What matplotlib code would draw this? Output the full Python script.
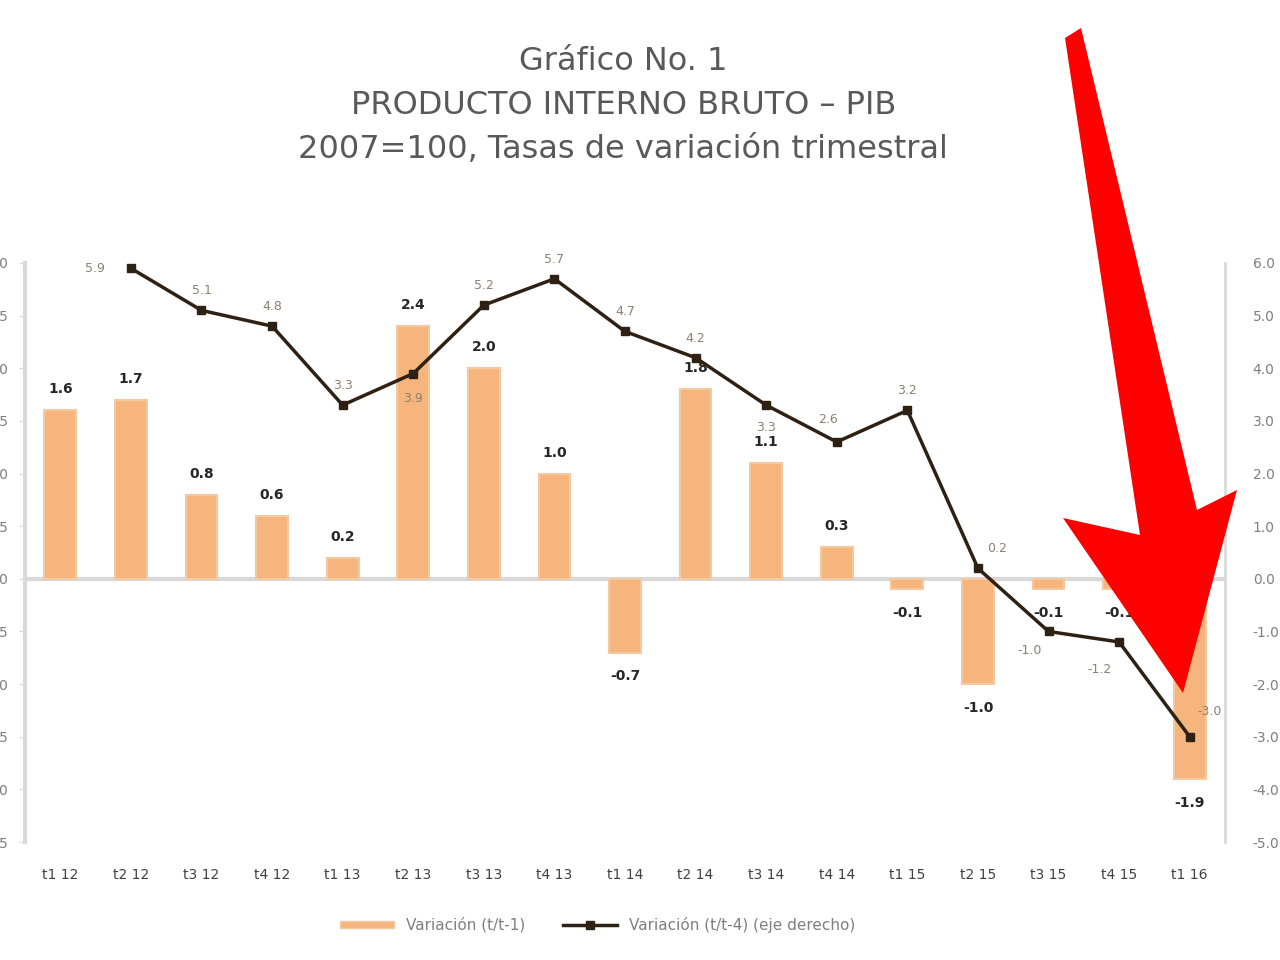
import matplotlib
matplotlib.use("Agg")
import matplotlib.pyplot as plt
from matplotlib.patches import Polygon, Patch
from matplotlib.lines import Line2D
import numpy as np

# trimestres
quarters = ['t1 12', 't2 12', 't3 12', 't4 12',
            't1 13', 't2 13', 't3 13', 't4 13',
            't1 14', 't2 14', 't3 14', 't4 14',
            't1 15', 't2 15', 't3 15', 't4 15',
            't1 16']
# variacion t/t-1 (barras, eje izquierdo)
qoq = [1.6, 1.7, 0.8, 0.6, 0.2, 2.4, 2.0, 1.0, -0.7, 1.8, 1.1, 0.3,
       -0.1, -1.0, -0.1, -0.1, -1.9]
# variacion t/t-4 (linea, eje derecho); el primer trimestre no tiene dato
yoy = [np.nan, 5.9, 5.1, 4.8, 3.3, 3.9, 5.2, 5.7, 4.7, 4.2, 3.3, 2.6,
       3.2, 0.2, -1.0, -1.2, -3.0]

left_ticks = [-2.5, -2.0, -1.5, -1.0, -0.5, 0.0, 0.5, 1.0, 1.5, 2.0, 2.5, 3.0]
right_ticks = [-5.0, -4.0, -3.0, -2.0, -1.0, 0.0, 1.0, 2.0, 3.0, 4.0, 5.0, 6.0]

# desplazamiento (pt) de las etiquetas de la linea
line_lbl_off = {1: (-26, 0), 5: (0, -18), 10: (0, -16), 11: (-6, 16),
                13: (14, 14), 14: (-14, -14), 15: (-14, -20), 16: (14, 18)}

x = np.arange(len(quarters))
grey = '#7f7f7f'
bar_col = '#F6B57C'
line_col = '#2e2113'

fig = plt.figure(figsize=(12.8, 9.6), dpi=100)
ax = fig.add_axes([25 / 1280, 1 - 842 / 960, 1200 / 1280, (842 - 263) / 960])
ax2 = ax.twinx()

ax.bar(x, qoq, width=0.45, color=bar_col, edgecolor='#F3C9A2',
       linewidth=1.5, zorder=2)
ax.axhline(0, color='#d9d9d9', lw=3, zorder=1)
ax.set_xlim(-0.5, len(quarters) - 0.5)
ax.set_ylim(-2.5, 3.0)
ax.set_yticks(left_ticks)
ax.set_yticklabels([f'{v:.1f}' for v in left_ticks])
ax.set_xticks(x)
ax.set_xticklabels(quarters)
ax.tick_params(axis='x', length=0, pad=19, labelsize=10, labelcolor='#404040')
ax.tick_params(axis='y', length=4, color='#d9d9d9', pad=8, labelsize=10,
               labelcolor=grey)

for i, v in enumerate(qoq):
    off = 10 if v >= 0 else -12
    ax.annotate(f'{v:.1f}', (i, v), xytext=(0, off), textcoords='offset points',
                ha='center', va='bottom' if v >= 0 else 'top',
                fontsize=10, fontweight='bold', color='#262626')

ax2.plot(x, yoy, color=line_col, lw=2.5, marker='s', markersize=6,
         markerfacecolor=line_col, zorder=3)
ax2.set_ylim(-5, 6)
ax2.set_yticks(right_ticks)
ax2.set_yticklabels([f'{v:.1f}' for v in right_ticks])
ax2.tick_params(axis='y', length=0, pad=20, labelsize=10, labelcolor=grey)

for i, v in enumerate(yoy):
    if np.isnan(v):
        continue
    dx, dy = line_lbl_off.get(i, (0, 14))
    ax2.annotate(f'{v:.1f}', (i, v), xytext=(dx, dy), textcoords='offset points',
                 ha='center', va='center', fontsize=9, color='#8c8070')

for a in (ax, ax2):
    for s in ('top', 'bottom'):
        a.spines[s].set_visible(False)
    a.spines['left'].set_color('#d9d9d9')
    a.spines['right'].set_color('#d9d9d9')
    a.spines['left'].set_linewidth(3)
    a.spines['right'].set_linewidth(2)
ax2.spines['left'].set_visible(False)
ax.spines['right'].set_visible(False)

title_lines = ['Gráfico No. 1', 'PRODUCTO INTERNO BRUTO – PIB',
               '2007=100, Tasas de variación trimestral']
for t, py in zip(title_lines, [62, 105, 150]):
    fig.text(0.487, 1 - py / 960, t, ha='center', va='center',
             fontsize=23, color='#595959')

handles = [Patch(facecolor=bar_col, edgecolor='#F3C9A2'),
           Line2D([0], [0], color=line_col, lw=2.5, marker='s', markersize=6)]
fig.legend(handles, ['Variación (t/t-1)', 'Variación (t/t-4) (eje derecho)'],
           loc='center', bbox_to_anchor=(0.467, 1 - 925 / 960), ncol=2,
           frameon=False, fontsize=11, labelcolor=grey, handlelength=3.5,
           handleheight=0.4, columnspacing=2.5)

# flecha roja
arrow_px = [(1065, 38), (1081, 28), (1197, 510), (1237, 490), (1183, 693),
            (1063, 518), (1140, 535)]
arrow = Polygon([(px, 960 - py) for px, py in arrow_px], closed=True,
                facecolor='#ff0000', edgecolor='none', transform=None, zorder=10)
fig.patches.append(arrow)

fig.savefig('out.png', dpi=100)
